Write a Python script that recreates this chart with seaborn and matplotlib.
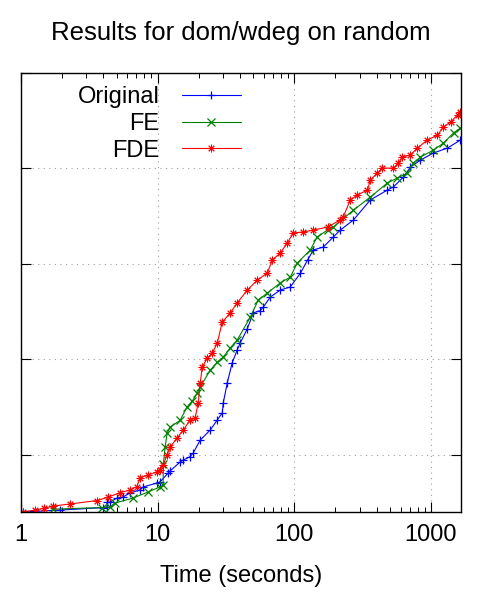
import numpy as np
import pandas as pd
import matplotlib
matplotlib.use("Agg")
import matplotlib.pyplot as plt
from matplotlib.ticker import LogLocator, NullFormatter, FixedLocator
import seaborn as sns

# cactus plot data: time (seconds) vs. number of instances solved
orig_time = [1.03, 1.93, 3.99, 4.27, 4.27, 4.49, 5.05, 5.59, 6.29, 7.44, 7.83, 9.91, 10.4,
             11.94, 12.35, 14.6, 15.4, 17.3, 18.2, 20.5, 24.3, 27.3, 29.7, 30.2, 32.3, 35.1,
             38.2, 40.2, 45.3, 50.1, 56.3, 59.3, 66.7, 78.9, 93.5, 111, 125, 138, 163, 193,
             217, 271, 360, 480, 531, 629, 708, 838, 1043, 1321, 1644]
orig_solved = [0, 1.0, 2.3, 2.6, 5.0, 5.2, 7.3, 7.9, 10.0, 11.5, 13.1, 15.2, 15.7,
               20.4, 21.5, 26.2, 27.2, 29.0, 30.9, 37.7, 43.0, 48.2, 51.9, 57.1, 67.6, 78.1,
               84.9, 88.5, 96.0, 104.3, 105.5, 107.4, 112.6, 116.3, 117.9, 125.2, 132.0, 137.3,
               138.8, 144.1, 147.7, 153.0, 163.5, 168.7, 170.3, 175.5, 180.7, 184.4, 188.1,
               190.7, 194.9]

fe_time = [1.72, 3.9, 4.5, 4.88, 6.61, 8.52, 10.4, 10.97, 11.0, 11.35, 11.74, 12.35, 14.6,
           16.4, 17.9, 19.5, 20.5, 24.3, 27.3, 30.2, 34.0, 38.2, 47.6, 54.5, 63.4, 78.9,
           93.5, 105, 131, 147, 175, 193, 271, 360, 480, 568, 673, 744, 838, 1043, 1235,
           1462, 1644]
fe_solved = [1.5, 2.3, 2.6, 4.7, 7.3, 10.5, 13.1, 14.0, 25.0, 34.0, 41.4, 44.5, 48.0,
             55.0, 58.0, 62.3, 65.5, 74.4, 78.5, 81.2, 86.0, 90.1, 102.0, 111.1, 114.7, 120.0,
             123.1, 130.4, 137.3, 144.1, 147.7, 149.3, 158.2, 165.0, 172.4, 175.0, 177.6,
             182.8, 186.0, 189.6, 193.3, 198.6, 201.2]

fde_time = [1.03, 1.27, 1.47, 1.72, 2.29, 3.60, 4.30, 5.31, 6.29, 7.04, 7.44, 8.52, 9.9,
            10.4, 10.97, 11.74, 12.35, 13.9, 15.4, 17.3, 18.8, 19.8, 20.5, 21.2, 23.1, 25.1,
            27.3, 29.7, 34.0, 38.2, 45.3, 53.6, 63.4, 69.0, 78.9, 88.8, 98.4, 116, 138, 175,
            217, 228, 257, 290, 343, 360, 405, 441, 531, 578, 618, 708, 796, 942, 1116, 1235,
            1390, 1564, 1644]
fde_solved = [0, 1.0, 1.9, 3.1, 4.2, 6.0, 7.7, 10.1, 11.5, 13.3, 17.8, 19.4, 21.0,
              22.0, 24.6, 29.9, 34.1, 38.8, 43.0, 48.2, 49.2, 57.1, 67.6, 76.0, 80.7, 83.3,
              88.5, 99.5, 104.3, 109.5, 116.3, 121.5, 125.2, 132.0, 135.7, 140.9, 146.2, 146.7,
              147.7, 149.3, 153.0, 154.6, 163.5, 166.1, 168.7, 173.9, 177.6, 180.2, 180.2,
              182.8, 186.0, 187.0, 190.7, 194.9, 197.5, 201.7, 204.3, 208.0, 209.5]

series = [("Original", orig_time, orig_solved, "#0000ff", "+", 0.9),
          ("FE", fe_time, fe_solved, "#008000", "x", 0.9),
          ("FDE", fde_time, fde_solved, "#ff0000", (8, 2, 0), 0.7)]

y_ticks = [30, 80, 130, 180, 230]

sns.set_style("ticks")
plt.rcParams['font.family'] = ['Liberation Sans', 'DejaVu Sans']
plt.rcParams['text.color'] = 'black'
plt.rcParams['xtick.color'] = 'black'
plt.rcParams['ytick.color'] = 'black'
plt.rcParams['axes.labelcolor'] = 'black'

fig = plt.figure(figsize=(4.96, 6.01), dpi=100)
ax = fig.add_axes([0.0423, 0.1481, 0.8865, 0.7304])

for name, t, s, col, mk, mew in series:
    df = pd.DataFrame({"time": t, "solved": s})
    sns.lineplot(data=df, x="time", y="solved", ax=ax, estimator=None, sort=False,
                 color=col, marker=mk, markersize=5.5, markeredgewidth=mew,
                 markeredgecolor=col, linewidth=0.8, label=name)

ax.set_xscale("log")
ax.set_xlim(1, 1650)
ax.set_ylim(0, 230)
ax.xaxis.set_major_locator(FixedLocator([1, 10, 100, 1000]))
ax.set_xticklabels(["1", "10", "100", "1000"])
ax.xaxis.set_minor_locator(LogLocator(base=10, subs=np.arange(2, 10)))
ax.xaxis.set_minor_formatter(NullFormatter())
ax.yaxis.set_major_locator(FixedLocator(y_ticks))
ax.set_yticklabels([])

ax.tick_params(axis="both", which="major", direction="in", length=7.5, width=0.8,
               top=True, right=True, labelsize=17, pad=9)
ax.tick_params(axis="x", which="minor", direction="in", length=3.8, width=0.7,
               top=True, bottom=True)
ax.grid(True, which="major", color="#a0a0a0", linestyle=(0, (1, 4)), linewidth=0.8)
for sp in ax.spines.values():
    sp.set_linewidth(1.0)
    sp.set_color("black")

ax.set_xlabel("Time (seconds)", fontsize=17, labelpad=13)
ax.set_ylabel("")
ax.set_title("Results for dom/wdeg on random", fontsize=18.5, pad=24)

ax.legend(loc="upper right", bbox_to_anchor=(0.50, 0.97), frameon=False,
          markerfirst=False, fontsize=17, handlelength=2.5, handletextpad=0.95,
          labelspacing=0.2, borderpad=0, borderaxespad=0)

fig.savefig("out.png", dpi=100)
